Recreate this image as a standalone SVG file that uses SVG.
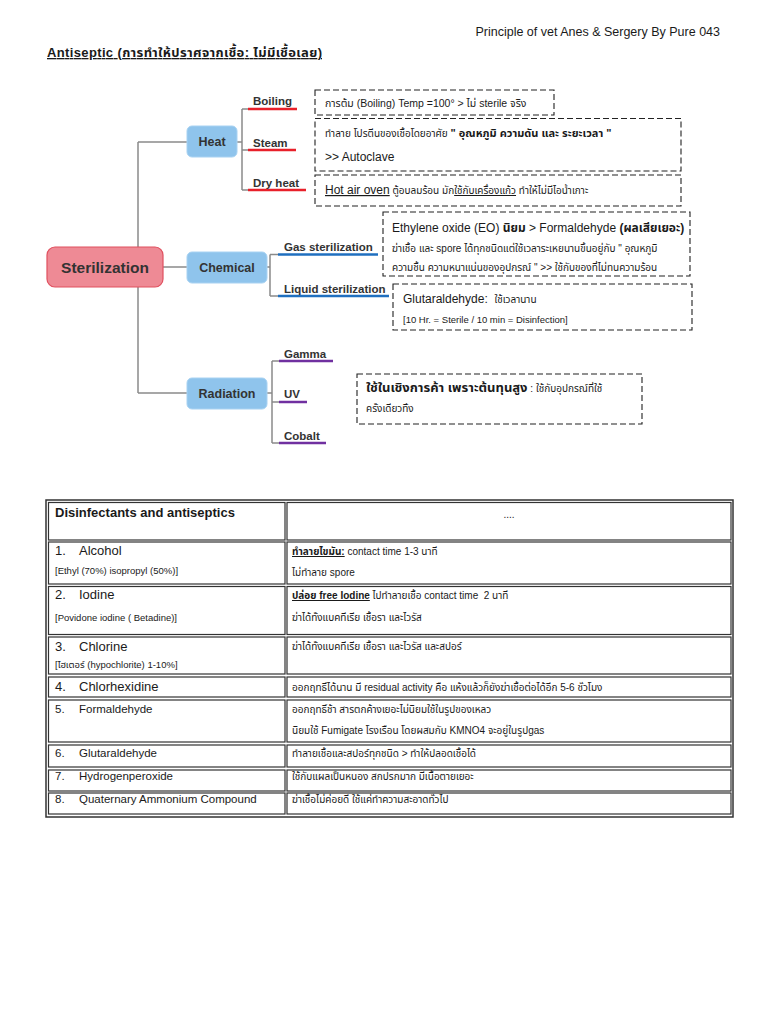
<svg xmlns="http://www.w3.org/2000/svg" width="768" height="1024" viewBox="0 0 768 1024">
<style>
text{font-family:"Liberation Sans","Noto Sans Thai","DejaVu Sans",sans-serif;fill:#1a1a1a;white-space:pre}
.mm{font-weight:bold;fill:#333}
.conn{stroke:#8a8a8a;stroke-width:1.5;fill:none}
.red{stroke:#e8202a;stroke-width:2.5}
.blue{stroke:#1f6fbf;stroke-width:2.5}
.pur{stroke:#7030a0;stroke-width:2.5}
.dash{fill:none;stroke:#222;stroke-width:1.1;stroke-dasharray:6 3}
.bbox{fill:#8fc4ec;stroke:#a8d2f2;stroke-width:1}
.cell{fill:#fff;stroke:#333;stroke-width:1.2}
.s10{font-size:10px}
.s95{font-size:9.5px}
.s12{font-size:12px}
.s13{font-size:13px}
.s11{font-size:11.5px}
</style>
<rect width="768" height="1024" fill="#fff"/>
<text x="720" y="36" font-size="12.5" text-anchor="end">Principle of vet Anes &amp; Sergery By Pure 043</text>
<text x="47" y="57" font-size="13" font-weight="bold" text-decoration="underline" textLength="275" lengthAdjust="spacing">Antiseptic (การทำให้ปราศจากเชื้อ: ไม่มีเชื้อเลย)</text>

<g id="connectors">
<path class="conn" d="M138 142V393M138 142H187M138 393H187M163 267H187"/>
<path class="conn" d="M237 142H242M242 109V190M242 109H248M242 150H248M242 190H248"/>
<path class="conn" d="M267 267H270M270 254.5V296M270 254.5H278M270 296H278"/>
<path class="conn" d="M267 393H272M272 361V443M272 361H279M272 402H279M272 443H279"/>
<line class="red" x1="248" y1="109" x2="297" y2="109"/>
<line class="red" x1="248" y1="150" x2="296" y2="150"/>
<line class="red" x1="248" y1="190" x2="306" y2="190"/>
<line class="blue" x1="278" y1="254.5" x2="378" y2="254.5"/>
<line class="blue" x1="278" y1="296" x2="389" y2="296"/>
<line class="pur" x1="279" y1="361" x2="333" y2="361"/>
<line class="pur" x1="279" y1="402" x2="307" y2="402"/>
<line class="pur" x1="279" y1="443" x2="326" y2="443"/>
</g>

<g id="sterilization">
<rect x="47" y="247" width="116" height="40" rx="8" fill="#ee8a95" stroke="#e0505f" stroke-width="1.2"/>
<text class="mm" x="105" y="273" font-size="15.5" text-anchor="middle">Sterilization</text>
</g>
<g id="heat">
<rect class="bbox" x="187" y="126" width="50" height="31" rx="5"/>
<text class="mm" x="212" y="146" font-size="12.5" text-anchor="middle">Heat</text>
</g>
<g id="chemical">
<rect class="bbox" x="187" y="252" width="80" height="31" rx="5"/>
<text class="mm" x="227" y="272" font-size="12.5" text-anchor="middle">Chemical</text>
</g>
<g id="radiation">
<rect class="bbox" x="187" y="378" width="80" height="31" rx="5"/>
<text class="mm" x="227" y="398" font-size="12.5" text-anchor="middle">Radiation</text>
</g>

<g id="boiling"><text class="mm" x="253" y="105" font-size="11.5">Boiling</text></g>
<g id="steam"><text class="mm" x="253" y="147" font-size="11.5">Steam</text></g>
<g id="dryheat"><text class="mm" x="253" y="187" font-size="11.5">Dry heat</text></g>
<g id="gas"><text class="mm" x="284" y="251" font-size="11.5">Gas sterilization</text></g>
<g id="liquid"><text class="mm" x="284" y="293" font-size="11.5">Liquid sterilization</text></g>
<g id="gamma"><text class="mm" x="284" y="358" font-size="11.5">Gamma</text></g>
<g id="uv"><text class="mm" x="284" y="398" font-size="11.5">UV</text></g>
<g id="cobalt"><text class="mm" x="284" y="440" font-size="11.5">Cobalt</text></g>

<g id="note-boiling">
<rect class="dash" x="315" y="90" width="239" height="25"/>
<text x="325" y="107" font-size="10.5">การต้ม (Boiling) Temp =100° &gt; ไม่ sterile จริง</text>
</g>
<g id="note-steam">
<rect class="dash" x="315" y="118.5" width="366" height="52.5"/>
<text x="325" y="137" class="s10">ทำลาย โปรตีนของเชื้อโดยอาศัย <tspan font-weight="bold" font-size="11">" อุณหภูมิ ความดัน และ ระยะเวลา "</tspan></text>
<text x="325" y="161" class="s12">&gt;&gt; Autoclave</text>
</g>
<g id="note-dry">
<rect class="dash" x="315" y="175" width="366" height="31"/>
<text x="325" y="194" class="s12"><tspan text-decoration="underline">Hot air oven</tspan><tspan font-size="10"> ตู้อบลมร้อน มัก</tspan><tspan font-size="10" text-decoration="underline">ใช้กับเครื่องแก้ว</tspan><tspan font-size="10"> ทำให้ไม่มีไอน้ำเกาะ</tspan></text>
</g>
<g id="note-gas">
<rect class="dash" x="383" y="212" width="307" height="64"/>
<text x="392" y="232" class="s12">Ethylene oxide (EO) <tspan font-weight="bold">นิยม</tspan> &gt; Formaldehyde <tspan font-weight="bold">(ผลเสียเยอะ)</tspan></text>
<text x="392" y="252" class="s10">ฆ่าเชื้อ และ spore ได้ทุกชนิดแต่ใช้เวลาระเหยนานขึ้นอยู่กับ " อุณหภูมิ</text>
<text x="392" y="271" class="s10">ความชื้น ความหนาแน่นของอุปกรณ์ " &gt;&gt; ใช้กับของที่ไม่ทนความร้อน</text>
</g>
<g id="note-liquid">
<rect class="dash" x="393" y="284" width="299" height="46"/>
<text x="403" y="303" class="s12">Glutaraldehyde:  <tspan font-size="10">ใช้เวลานาน</tspan></text>
<text x="403" y="323" class="s95">[10 Hr. = Sterile / 10 min = Disinfection]</text>
</g>
<g id="note-radiation">
<rect class="dash" x="357" y="374" width="285" height="50"/>
<text x="366" y="392"><tspan font-size="13" font-weight="bold">ใช้ในเชิงการค้า เพราะต้นทุนสูง</tspan><tspan font-size="10"> : ใช้กับอุปกรณ์ที่ใช้</tspan></text>
<text x="366" y="412" class="s10">ครั้งเดียวทิ้ง</text>
</g>

<g id="table">
<rect x="46" y="500" width="687" height="317" fill="#fff" stroke="#333" stroke-width="1.5"/>
<rect class="cell" x="48.5" y="502.5" width="236.5" height="37.5"/>
<rect class="cell" x="287" y="502.5" width="444" height="37.5"/>
<rect class="cell" x="48.5" y="542" width="236.5" height="42"/>
<rect class="cell" x="287" y="542" width="444" height="42"/>
<rect class="cell" x="48.5" y="586.5" width="236.5" height="48"/>
<rect class="cell" x="287" y="586.5" width="444" height="48"/>
<rect class="cell" x="48.5" y="637" width="236.5" height="37"/>
<rect class="cell" x="287" y="637" width="444" height="37"/>
<rect class="cell" x="48.5" y="677" width="236.5" height="20"/>
<rect class="cell" x="287" y="677" width="444" height="20"/>
<rect class="cell" x="48.5" y="700" width="236.5" height="42"/>
<rect class="cell" x="287" y="700" width="444" height="42"/>
<rect class="cell" x="48.5" y="745" width="236.5" height="22"/>
<rect class="cell" x="287" y="745" width="444" height="22"/>
<rect class="cell" x="48.5" y="770" width="236.5" height="21"/>
<rect class="cell" x="287" y="770" width="444" height="21"/>
<rect class="cell" x="48.5" y="793" width="236.5" height="21"/>
<rect class="cell" x="287" y="793" width="444" height="21"/>

<text x="55" y="517" font-size="13" font-weight="bold">Disinfectants and antiseptics</text>
<text x="509" y="518" font-size="10" text-anchor="middle">....</text>

<text x="55" y="555" class="s13">1.<tspan x="79">Alcohol</tspan></text>
<text x="55" y="574" class="s95">[Ethyl (70%) isopropyl (50%)]</text>
<text x="292" y="555" class="s10"><tspan font-weight="bold" text-decoration="underline">ทำลายไขมัน:</tspan> contact time 1-3 นาที</text>
<text x="292" y="576" class="s10">ไม่ทำลาย spore</text>

<text x="55" y="599" class="s13">2.<tspan x="79">Iodine</tspan></text>
<text x="55" y="621" class="s95">[Povidone iodine ( Betadine)]</text>
<text x="292" y="599" class="s10"><tspan font-weight="bold" text-decoration="underline">ปล่อย free Iodine</tspan> ไปทำลายเชื้อ contact time  2 นาที</text>
<text x="292" y="621" class="s10">ฆ่าได้ทั้งแบคทีเรีย เชื้อรา และไวรัส</text>

<text x="55" y="651" class="s13">3.<tspan x="79">Chlorine</tspan></text>
<text x="55" y="668" class="s95">[ไฮเตอร์ (hypochlorite) 1-10%]</text>
<text x="292" y="650" class="s10">ฆ่าได้ทั้งแบคทีเรีย เชื้อรา และไวรัส และสปอร์</text>

<text x="55" y="691" class="s13">4.<tspan x="79">Chlorhexidine</tspan></text>
<text x="292" y="691" class="s10">ออกฤทธิ์ได้นาน มี residual activity คือ แห้งแล้วก็ยังฆ่าเชื้อต่อได้อีก 5-6 ชั่วโมง</text>

<text x="55" y="713" class="s11">5.<tspan x="79">Formaldehyde</tspan></text>
<text x="292" y="713" class="s10">ออกฤทธิ์ช้า สารตกค้างเยอะไม่นิยมใช้ในรูปของเหลว</text>
<text x="292" y="734" class="s10">นิยมใช้ Fumigate โรงเรือน โดยผสมกับ KMNO4 จะอยู่ในรูปgas</text>

<text x="55" y="757" class="s11">6.<tspan x="79">Glutaraldehyde</tspan></text>
<text x="292" y="757" class="s10">ทำลายเชื้อและสปอร์ทุกชนิด &gt; ทำให้ปลอดเชื้อได้</text>

<text x="55" y="780" class="s11">7.<tspan x="79">Hydrogenperoxide</tspan></text>
<text x="292" y="780" class="s10">ใช้กับแผลเป็นหนอง สกปรกมาก มีเนื้อตายเยอะ</text>

<text x="55" y="803" class="s11">8.<tspan x="79">Quaternary Ammonium Compound</tspan></text>
<text x="292" y="803" class="s10">ฆ่าเชื้อไม่ค่อยดี ใช้แค่ทำความสะอาดทั่วไป</text>
</g>
</svg>
